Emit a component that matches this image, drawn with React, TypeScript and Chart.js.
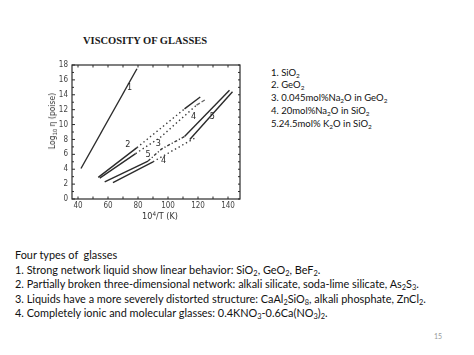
import React, { useEffect, useRef } from "react";
import { Chart, registerables } from "chart.js";
Chart.register(...registerables);

// ---- data ----
const xTickValues = [40, 60, 80, 100, 120, 140];
const yTickValues = [0, 2, 4, 6, 8, 10, 12, 14, 16, 18];

// 1. SiO2
const sio2X = [42, 79.3];
const sio2Y = [4.1, 17.5];
// 2. GeO2
const geo2LowX = [53.5, 79.3];
const geo2LowY = [2.9, 6.9];
const geo2MidX = [79.3, 111];
const geo2MidY = [6.9, 12.1];
const geo2HighX = [111, 121.5];
const geo2HighY = [12.1, 13.7];
// 3. 0.045mol% Na2O in GeO2
const naGeLowX = [54.5, 78.4];
const naGeLowY = [2.8, 6.1];
const naGeMidX = [78.4, 95, 119];
const naGeMidY = [6.1, 8.3, 12.6];
const naGeHighX = [119, 124.5];
const naGeHighY = [12.6, 13.3];
// 4. 20mol% Na2O in SiO2
const naSiLowX = [57.8, 86.7];
const naSiLowY = [2.3, 5.1];
const naSiMidX = [86.7, 95.6, 111];
const naSiMidY = [5.1, 6.7, 8.4];
const naSiHighX = [111, 141];
const naSiHighY = [8.4, 14.6];
// 5. 24.5mol% K2O in SiO2
const kSiLowX = [63.3, 90];
const kSiLowY = [2.2, 5.0];
const kSiMidX = [90, 118];
const kSiMidY = [5.0, 8.2];
const kSiHighX = [114.5, 143];
const kSiHighY = [8.0, 14.4];

const curveLabels = ["1", "2", "3", "5", "4", "4", "5"];
const curveLabelX = [74.4, 73.3, 93.6, 86.7, 97, 117.1, 129.6];
const curveLabelY = [14.9, 7.3, 7.4, 6.0, 5.2, 11.0, 11.1];

const pts = (xs: number[], ys: number[]) => xs.map((x, i) => ({ x, y: ys[i] }));

const INK = "#2b2b2b";

const framePlugin = {
  id: "frameAndLabels",
  afterDraw(chart: any) {
    const { ctx, chartArea: a, scales } = chart;
    const xs = scales.x;
    const ys = scales.y;
    ctx.save();
    ctx.strokeStyle = INK;
    ctx.lineWidth = 1.2;
    ctx.strokeRect(a.left, a.top, a.right - a.left, a.bottom - a.top);
    ctx.lineWidth = 1;
    // inward minor ticks
    for (let v = 0; v <= 18; v += 1) {
      const py = ys.getPixelForValue(v);
      ctx.beginPath();
      ctx.moveTo(a.left, py);
      ctx.lineTo(a.left + (v % 2 === 0 ? 3 : 2), py);
      ctx.moveTo(a.right, py);
      ctx.lineTo(a.right - 2, py);
      ctx.stroke();
    }
    for (let v = 40; v <= 140; v += 10) {
      const px = xs.getPixelForValue(v);
      ctx.beginPath();
      ctx.moveTo(px, a.top);
      ctx.lineTo(px, a.top + 2.5);
      ctx.moveTo(px, a.bottom);
      ctx.lineTo(px, a.bottom - 2.5);
      ctx.stroke();
    }
    // curve labels
    ctx.fillStyle = INK;
    ctx.font = "9px 'DejaVu Sans Condensed', 'DejaVu Sans'";
    ctx.textAlign = "center";
    ctx.textBaseline = "middle";
    curveLabels.forEach((t, i) => {
      ctx.fillText(t, xs.getPixelForValue(curveLabelX[i]), ys.getPixelForValue(curveLabelY[i]));
    });
    ctx.restore();
  },
};

const solid = (xs: number[], ys: number[]) => ({
  data: pts(xs, ys),
  borderColor: INK,
  borderWidth: 1.4,
  pointRadius: 0,
  fill: false,
  tension: 0,
});
const dotted = (xs: number[], ys: number[]) => ({
  data: pts(xs, ys),
  borderColor: "#3a3a3a",
  borderWidth: 1.4,
  borderDash: [1.4, 2.8],
  pointRadius: 0,
  fill: false,
  tension: 0,
});

const tickFont = { size: 8, family: "'DejaVu Sans Condensed', 'DejaVu Sans'" };

function ViscosityChart() {
  const ref = useRef<HTMLCanvasElement>(null);
  useEffect(() => {
    if (!ref.current) return;
    const chart = new Chart(ref.current, {
      type: "line",
      data: {
        datasets: [
          solid(sio2X, sio2Y),
          solid(geo2LowX, geo2LowY),
          dotted(geo2MidX, geo2MidY),
          solid(geo2HighX, geo2HighY),
          solid(naGeLowX, naGeLowY),
          dotted(naGeMidX, naGeMidY),
          { ...dotted(naGeHighX, naGeHighY), borderDash: [4, 2], borderColor: "#666" },
          solid(naSiLowX, naSiLowY),
          { ...dotted(naSiMidX, naSiMidY), borderDash: [3, 2, 1.2, 2] },
          solid(naSiHighX, naSiHighY),
          solid(kSiLowX, kSiLowY),
          dotted(kSiMidX, kSiMidY),
          solid(kSiHighX, kSiHighY),
        ] as any,
      },
      options: {
        animation: false,
        responsive: false,
        maintainAspectRatio: false,
        layout: { padding: { top: 15, right: 10, left: 0, bottom: 0 } },
        plugins: { legend: { display: false }, tooltip: { enabled: false } },
        scales: {
          x: {
            type: "linear",
            min: 36,
            max: 148,
            afterBuildTicks: (s: any) => {
              s.ticks = xTickValues.map((v) => ({ value: v }));
            },
            afterFit: (s: any) => {
              s.height = 31;
            },
            grid: { display: false, drawTicks: false },
            border: { display: false },
            ticks: { color: "#444", padding: 2, maxRotation: 0, font: tickFont },
          },
          y: {
            type: "linear",
            min: 0,
            max: 18,
            afterBuildTicks: (s: any) => {
              s.ticks = yTickValues.map((v) => ({ value: v }));
            },
            afterFit: (s: any) => {
              s.width = 42;
            },
            grid: { display: false, drawTicks: false },
            border: { display: false },
            ticks: { color: "#444", padding: 4, font: tickFont },
          },
        },
      },
      plugins: [framePlugin],
    } as any);
    return () => chart.destroy();
  }, []);
  return (
    <canvas
      ref={ref}
      width={220}
      height={180}
      style={{ position: "absolute", left: 30, top: 50, width: 220, height: 180 }}
    />
  );
}

const Sub = ({ children }: { children: React.ReactNode }) => (
  <sub style={{ fontSize: "0.68em", verticalAlign: "-0.3em", lineHeight: 0 }}>{children}</sub>
);

export default function App() {
  const slideFont = "Lato, 'Open Sans', sans-serif";
  return (
    <div
      style={{
        position: "absolute",
        left: 0,
        top: 0,
        width: 474,
        height: 355,
        background: "#fff",
        overflow: "hidden",
        color: "#111",
      }}
    >
      <div
        style={{
          position: "absolute",
          left: 83,
          top: 35,
          fontFamily: "'Liberation Serif', serif",
          fontWeight: "bold",
          fontSize: 10.5,
          lineHeight: "12px",
          color: "#1a1a1a",
          whiteSpace: "nowrap",
        }}
      >
        VISCOSITY OF GLASSES
      </div>
      <ViscosityChart />
      <div
        style={{
          position: "absolute",
          left: 52,
          top: 121,
          transform: "translate(-50%, -50%) rotate(-90deg)",
          fontFamily: "'DejaVu Sans Condensed', 'DejaVu Sans'",
          fontSize: 8.5,
          color: "#333",
          whiteSpace: "nowrap",
          lineHeight: "10px",
        }}
      >
        Log<Sub>10</Sub> η (poise)
      </div>
      <div
        style={{
          position: "absolute",
          left: 160,
          top: 216,
          transform: "translate(-50%, -50%)",
          fontFamily: "'DejaVu Sans Condensed', 'DejaVu Sans'",
          fontSize: 9,
          color: "#333",
          whiteSpace: "nowrap",
          lineHeight: "10px",
        }}
      >
        10<sup style={{ fontSize: "0.7em", verticalAlign: "0.4em", lineHeight: 0 }}>4</sup>/T (K)
      </div>
      <div
        style={{
          position: "absolute",
          left: 271,
          top: 66.5,
          fontFamily: slideFont,
          fontSize: 9.5,
          lineHeight: "12.8px",
          whiteSpace: "nowrap",
        }}
      >
        <div>1. SiO<Sub>2</Sub></div>
        <div>2. GeO<Sub>2</Sub></div>
        <div>3. 0.045mol%Na<Sub>2</Sub>O in GeO<Sub>2</Sub></div>
        <div>4. 20mol%Na<Sub>2</Sub>O in SiO<Sub>2</Sub></div>
        <div>5.24.5mol% K<Sub>2</Sub>O in SiO<Sub>2</Sub></div>
      </div>
      <div
        style={{
          position: "absolute",
          left: 15,
          top: 248,
          fontFamily: slideFont,
          fontSize: 10.9,
          lineHeight: "14.5px",
          whiteSpace: "nowrap",
        }}
      >
        <div>Four types of&nbsp; glasses</div>
        <div>1. Strong network liquid show linear behavior: SiO<Sub>2</Sub>, GeO<Sub>2</Sub>, BeF<Sub>2</Sub>.</div>
        <div>
          2. Partially broken three-dimensional network: alkali silicate, soda-lime silicate, As<Sub>2</Sub>S<Sub>3</Sub>.
        </div>
        <div>
          3. Liquids have a more severely distorted structure: CaAl<Sub>2</Sub>SiO<Sub>8</Sub>, alkali phosphate, ZnCl
          <Sub>2</Sub>.
        </div>
        <div>
          4. Completely ionic and molecular glasses: 0.4KNO<Sub>3</Sub>-0.6Ca(NO<Sub>3</Sub>)<Sub>2</Sub>.
        </div>
      </div>
      <div
        style={{
          position: "absolute",
          left: 434,
          top: 332,
          fontFamily: slideFont,
          fontSize: 7,
          color: "#999",
        }}
      >
        15
      </div>
    </div>
  );
}
